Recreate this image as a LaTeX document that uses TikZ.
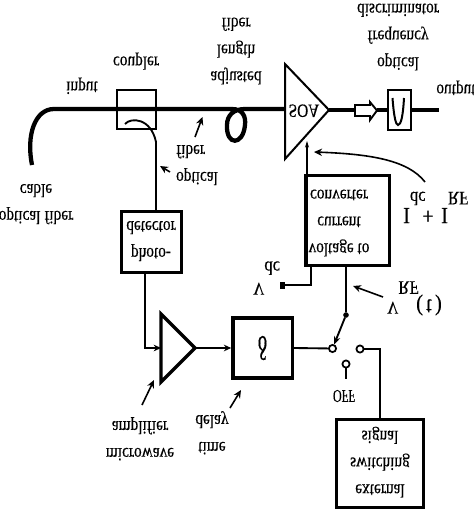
\documentclass[tikz,border=0pt]{standalone}
\usepackage{fontspec}
\setmainfont{Liberation Serif}
\newfontfamily\lab[FakeBold=0.4]{Liberation Serif}
\usetikzlibrary{arrows.meta,calc}
\newcommand{\fl}[2][c]{\scalebox{1}[-1.22]{\lab\fontsize{11.5}{16.5}\selectfont\begin{tabular}{@{}#1@{}}#2\end{tabular}}}
\newcommand{\flsub}[4]{\scalebox{1}[-1.15]{\lab\fontsize{#4}{16}\selectfont #1\raisebox{#3}{\fontsize{12.5}{13}\selectfont #2}}}
\tikzset{
 fiber/.style={line width=3.2pt},
 wire/.style={line width=1.4pt},
 note/.style={line width=1.2pt,-{Stealth[length=6pt,width=5.5pt]}},
 heavybox/.style={draw,line width=2.5pt,inner sep=0pt},
 lightbox/.style={draw,line width=1.6pt,inner sep=0pt},
 label/.style={inner sep=0pt},
 contact/.style={draw,circle,line width=1.3pt,minimum size=5.4pt,inner sep=0pt,fill=white},
}
\begin{document}
\begin{tikzpicture}[x=.75pt,y=-.75pt]
\useasboundingbox (0,0) rectangle (474,511);
% boxes
\node[lightbox,minimum width=29.2pt,minimum height=29.2pt] (coupler) at (136.5,109.5) {};
\node[lightbox,minimum width=17pt,minimum height=29.5pt] (disc) at (399.5,110) {};
\node[heavybox,minimum width=45pt,minimum height=45.5pt] (photo) at (151.5,242) {};
\node[label] at (151,240) {\fl{photo-\\detector}};
\node[heavybox,minimum width=44.5pt,minimum height=45pt] (delay) at (262.5,348) {\scalebox{1}[-1.7]{\lab\fontsize{15}{18}\selectfont δ}};
\node[heavybox,minimum width=62.5pt,minimum height=67.5pt] (conv) at (347.5,220.5) {};
\node[label] at (339,222) {\fl{voltage to\\current\\converter}};
\node[heavybox,minimum width=65pt,minimum height=66pt] (ext) at (380,463.5) {};
\node[label] at (380,463) {\fl{external\\switching\\signal}};
% triangles
\coordinate (soaA) at (285,64); \coordinate (soaB) at (285,159); \coordinate (soaT) at (329,110);
\coordinate (ampA) at (161,314); \coordinate (ampB) at (161,382); \coordinate (ampT) at (195,348);
% main fibre
\coordinate (cableEnd) at (32,165);
\coordinate (bendEnd) at (54,109);
\coordinate (loopIn) at (232,109);
\coordinate (soaIn) at (285,109);
\draw[fiber] (cableEnd) .. controls (26,135) and (35,109) .. (bendEnd) -- (loopIn)
  .. controls (243,109) and (246,117) .. (245,125)
  .. controls (243,146) and (226,146) .. (227,125)
  .. controls (227,115) and (234,109) .. (245,109) -- (soaIn);
\coordinate (hollowTail) at (355,110);
\coordinate (hollowTip) at (377,110);
\draw[fiber] (soaT) -- (hollowTail);
\draw[fiber] (hollowTip) -- (disc.west);
\coordinate (outEnd) at (439,110);
\draw[fiber] (disc.east) -- (outEnd);
\draw[line width=1.4pt,fill=white] (355,105) -- (370,105) -- (370,102) -- (377,110.5) -- (370,120) -- (370,116) -- (355,116) -- cycle;
\draw[fill=white,line width=1.5pt] (soaA) -- (soaT) -- (soaB) -- cycle;
\node[label] at (304,110) {\fl{SOA}};
% filter curve
\draw[line width=1.5pt] (392.5,98) .. controls (394,118) and (396,125) .. (398,125) .. controls (401,125) and (403,116) .. (404,98);
% coupler tap
\coordinate (tapStart) at (125,124);
\draw[wire] (tapStart) .. controls (131,117) and (151,118) .. (156,142) -- (156,210);
% photodetector to amp
\coordinate (ampIn) at (161,348);
\coordinate (photoOut) at (145,273);
\draw[wire,-{Stealth[length=5.5pt,width=5pt]}] (photoOut) |- (ampIn);
\draw[line width=2.4pt] (ampA) -- (ampT) -- (ampB) -- cycle;
\draw[wire,-{Stealth[length=5.5pt,width=5pt]}] (ampT) -- (delay.west);
% switch
\node[contact] (c1) at (332.5,348.5) {};
\node[contact] (c2) at (346,364) {};
\node[contact] (c3) at (360,349) {};
\node[circle,fill=black,minimum size=3.5pt,inner sep=0pt,draw,line width=.6pt] (piv) at (346,315) {};
\draw[wire] (delay.east) -- (c1);
\draw[wire] (conv.south -| piv) -- (piv);
\draw[wire,-{Stealth[length=6pt,width=5pt]}] (piv) -- (c1);
\coordinate (c2low) at (346,379);
\draw[wire] (c2) -- (c2low);
\coordinate (extTop) at (380,418);
\draw[wire] (c3) -| (extTop);
% bias
\coordinate (vdcEnd) at (283,285);
\coordinate (vdcTop) at (311,266);
\draw[line width=1.6pt] (vdcEnd) -| (vdcTop);
\fill (280,281.5) rectangle (285,288.5);
\coordinate (convOut) at (307,175);
\coordinate (soaBias) at (307,141);
\draw[wire,-{Stealth[length=5pt,width=3pt]}] (convOut) -- (soaBias);
% note arrows
\coordinate (a1) at (195,137); \coordinate (a2) at (202.5,117);
\coordinate (b1) at (170,172); \coordinate (b2) at (160,166);
\coordinate (d1) at (425,182); \coordinate (d2) at (314,152);
\coordinate (e1) at (383,297); \coordinate (e2) at (353,286);
\coordinate (f1) at (142,405); \coordinate (f2) at (154,380);
\coordinate (g1) at (230,408); \coordinate (g2) at (241,390);
\draw[note] (a1) -- (a2);
\draw[note] (b1) -- (b2);
\draw[note] (d1) .. controls (408,160) and (370,154) .. (d2);
\draw[note] (e1) -- (e2);
\draw[note] (f1) -- (f2);
\draw[note] (g1) -- (g2);
% labels
\node[label] at (36,203) {\fl{optical fiber\\cable}};
\node[label] at (82,87) {\fl{input}};
\node[label] at (136,62) {\fl{coupler}};
\node[label] at (197,164) {\fl[l]{optical\\fiber}};
\node[label] at (236,50) {\fl{adjusted\\length\\fiber}};
\node[label] at (398,36) {\fl{optical\\frequency\\discriminator}};
\node[label] at (456,90) {\fl{output}};
\node[label,anchor=base west] at (403,208) {\flsub{I}{dc}{-10.5pt}{15}};
\node[label] at (428,215) {\scalebox{1}[-1.15]{\lab\fontsize{15}{16}\selectfont +}};
\node[label,anchor=base west] at (441,208) {\flsub{I}{RF}{-10.5pt}{15}};
\node[label,anchor=base west] at (253,283) {\flsub{V}{dc}{-14pt}{11.5}};
\node[label,anchor=base west] at (387,302) {\flsub{V}{RF}{-13.5pt}{11.5}};
\node[label] at (429,305) {\scalebox{1}[-1.15]{\lab\fontsize{15}{16}\selectfont (\,t\,)}};
\node[label] at (344,396) {\scalebox{1}[-1.5]{\lab\fontsize{9}{11}\selectfont OFF}};
\node[label] at (140,440) {\fl{microwave\\amplifier}};
\node[label] at (212,434) {\fl{time\\delay}};
\end{tikzpicture}
\end{document}
